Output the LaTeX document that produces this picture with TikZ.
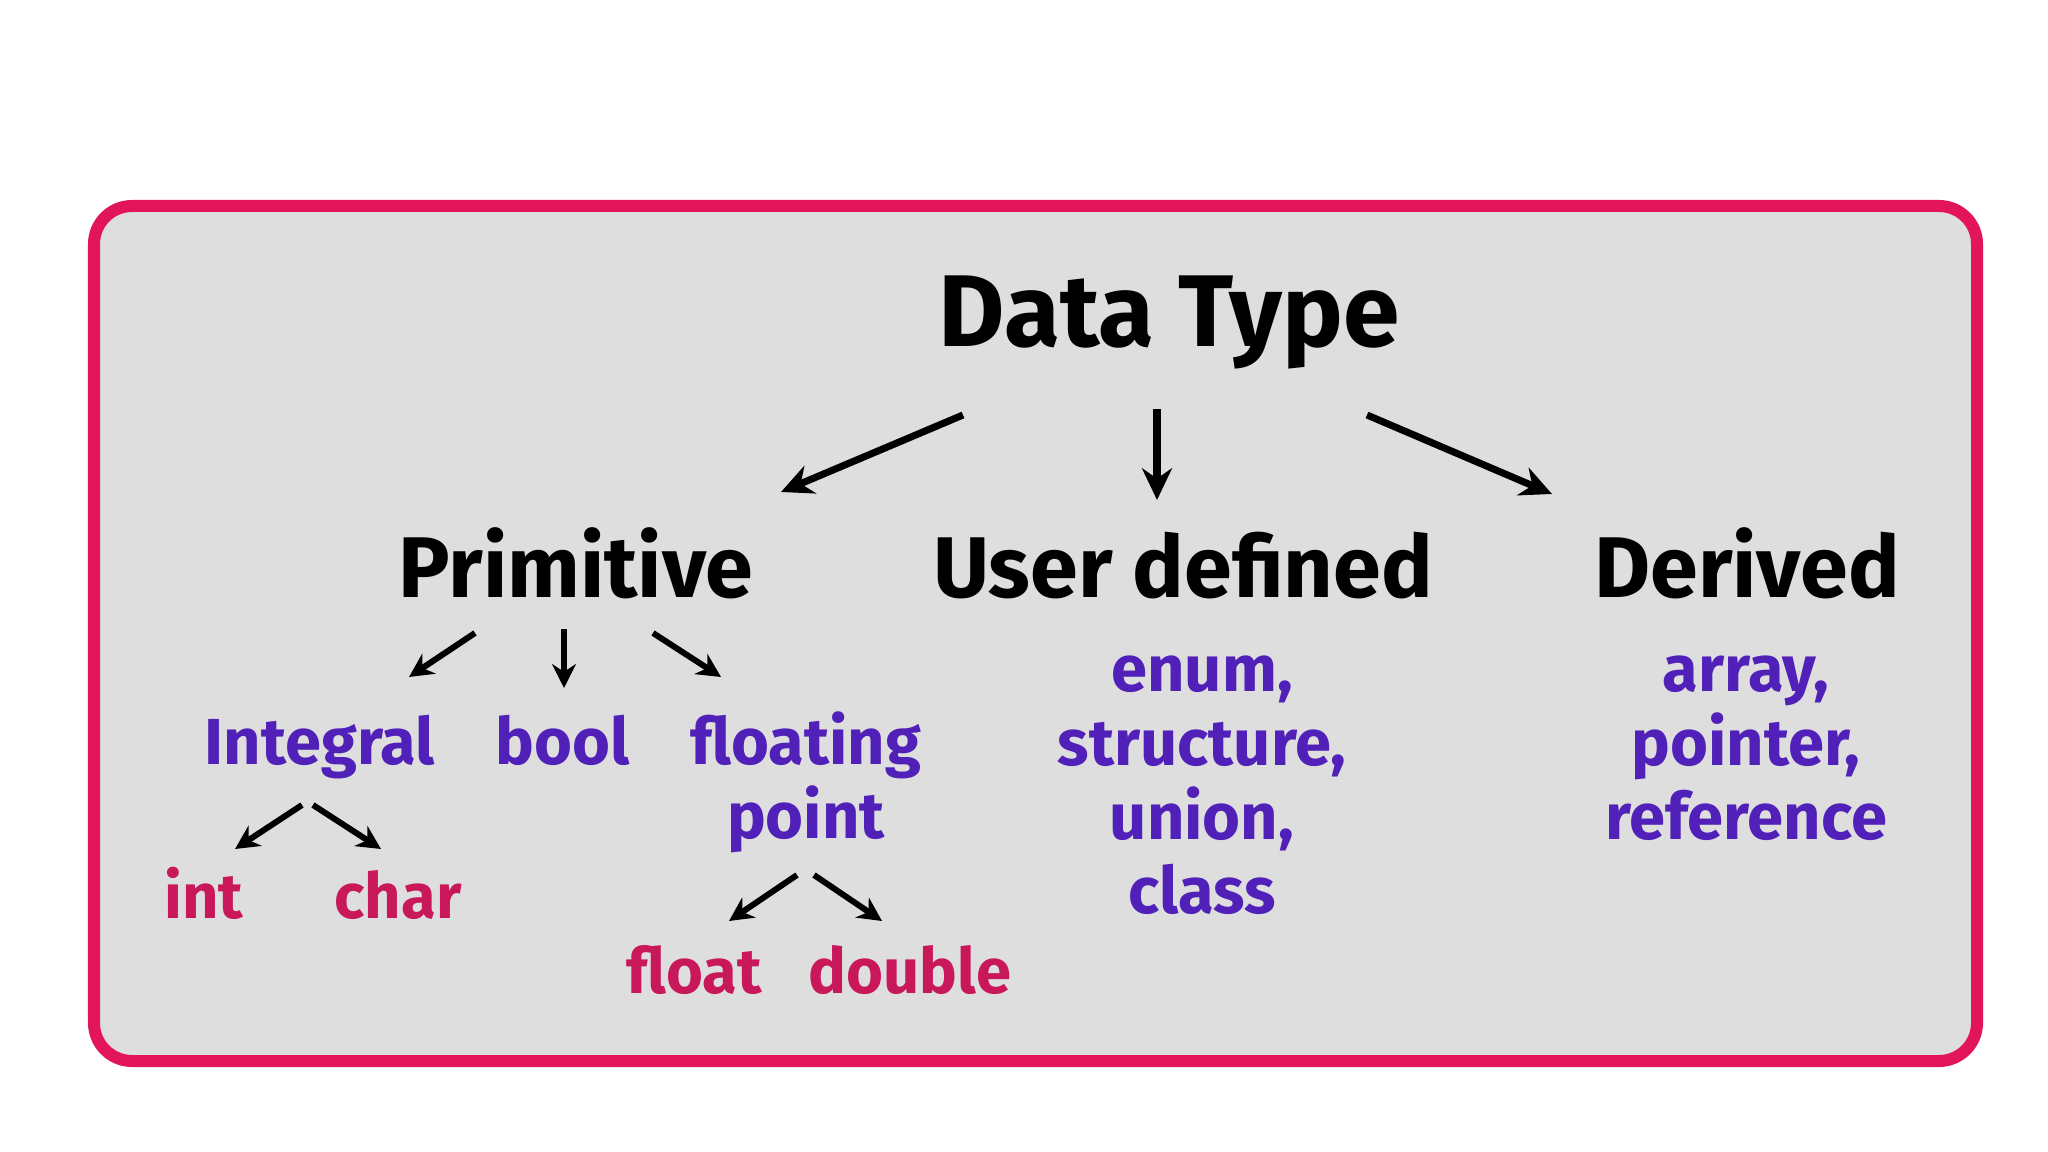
\documentclass[tikz,border=0pt]{standalone}
\usepackage{fontspec}
\setmainfont{Fira Sans}
\usepackage{xcolor}
\usepackage{tikz}
\usetikzlibrary{arrows.meta}
\definecolor{Rim}{HTML}{E2145A}
\definecolor{Panel}{HTML}{DEDEDE}
\definecolor{Violet}{HTML}{5020B8}
\definecolor{Crimson}{HTML}{C8185A}

\begin{document}
\begin{tikzpicture}[x=0.01cm,y=-0.01cm,
head/.style={anchor=base,font=\fontsize{29}{35}\selectfont\bfseries},
kind/.style={anchor=base,font=\fontsize{24.5}{29}\selectfont\bfseries},
sub/.style={anchor=base,align=center,text=Violet,font=\fontsize{18.5}{21}\selectfont\bfseries},
leaf/.style={anchor=base,text=Crimson,font=\fontsize{18}{21}\selectfont\bfseries},
bigarr/.style={-{Stealth[length=9pt,width=8.5pt]},line width=2pt},
smallarr/.style={-{Stealth[length=6.8pt,width=6.8pt]},line width=1.7pt}]
\fill[white] (0,0) rectangle (2048,1152);
\useasboundingbox (0,0) rectangle (2048,1152);
\draw[Rim,line width=0.12cm,fill=Panel,rounded corners=0.38cm] (94,206) rectangle (1977,1061);
\node[head] (dt) at (1169,347) {Data Type};
\node[kind] (prim) at (576,597) {Primitive};
\node[kind] (ud) at (1183,597) {User defined};
\node[kind] (der) at (1747,597) {Derived};
\node[sub] (integral) at (320,764) {Integral};
\node[sub] (bool) at (563,764) {bool};
% base of a multi-line node is its last line
\node[sub] (fp) at (806,838) {floating\\point};
\node[sub] (udlist) at (1202,913) {enum,\\structure,\\union,\\class};
\node[sub] (derlist) at (1746,839) {array,\\pointer,\\reference};
\node[leaf] (int) at (204,918) {int};
\node[leaf] (char) at (398,918) {char};
\node[leaf] (float) at (694,993) {float};
\node[leaf] (double) at (910,993) {double};
% top level
\draw[bigarr] ([shift={(-206,68)}]dt.base) -- ([shift={(205,-105)}]prim.base);
\draw[bigarr] ([shift={(-12,62)}]dt.base) -- ([shift={(-26,-97)}]ud.base);
\draw[bigarr] ([shift={(198,68)}]dt.base) -- ([shift={(-195,-103)}]der.base);
% primitive
\draw[smallarr] ([shift={(-101,36)}]prim.base) -- ([shift={(89,-87)}]integral.base);
\draw[smallarr] ([shift={(-12,32)}]prim.base) -- ([shift={(1,-76)}]bool.base);
\draw[smallarr] ([shift={(77,36)}]prim.base) -- ([shift={(-85,-161)}]fp.base);
\draw[smallarr] ([shift={(-18,41)}]integral.base) -- ([shift={(31,-69)}]int.base);
\draw[smallarr] ([shift={(-7,41)}]integral.base) -- ([shift={(-17,-69)}]char.base);
\draw[smallarr] ([shift={(-9,37)}]fp.base) -- ([shift={(35,-72)}]float.base);
\draw[smallarr] ([shift={(8,37)}]fp.base) -- ([shift={(-28,-72)}]double.base);
\end{tikzpicture}
\end{document}
